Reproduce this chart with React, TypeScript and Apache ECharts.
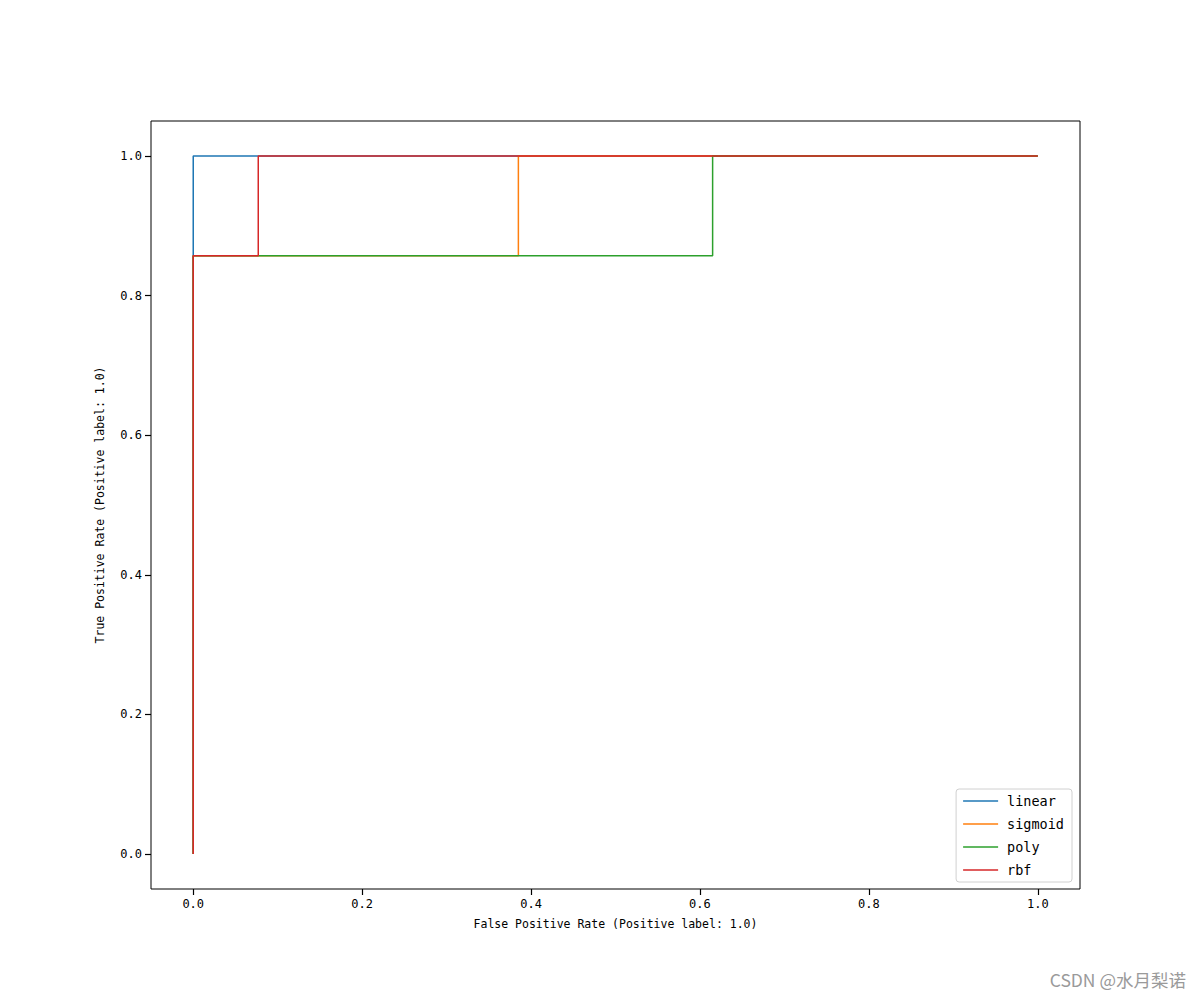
import React, { useEffect, useRef } from "react";
import * as echarts from "echarts";

const seriesNames = ["linear", "sigmoid", "poly", "rbf"];
const colors = ["#1f77b4", "#ff7f0e", "#2ca02c", "#d62728"];
const linearFpr = [0, 0, 0, 1];
const linearTpr = [0, 0.857, 1, 1];
const sigmoidFpr = [0, 0, 0.385, 0.385, 1];
const sigmoidTpr = [0, 0.857, 0.857, 1, 1];
const polyFpr = [0, 0, 0.615, 0.615, 1];
const polyTpr = [0, 0.857, 0.857, 1, 1];
const rbfFpr = [0, 0, 0.077, 0.077, 1];
const rbfTpr = [0, 0.857, 0.857, 1, 1];
const xLabel = "False Positive Rate (Positive label: 1.0)";
const yLabel = "True Positive Rate (Positive label: 1.0)";
const watermark = "CSDN @水月梨诺";

const FONT = "'DejaVu Sans Mono', monospace";
const AX_MIN = -0.05;
const AX_MAX = 1.05;
const TICK_STEP = 0.2;

export default function App() {
  const ref = useRef<HTMLDivElement>(null);
  useEffect(() => {
    document.body.style.margin = "0";
    const chart = echarts.init(ref.current!, null, { renderer: "svg" });
    const W = 1200, H = 1000;
    const G = { left: 151, right: 120, top: 121, bottom: 111 };
    const pw = W - G.left - G.right;
    const ph = H - G.top - G.bottom;
    const span = AX_MAX - AX_MIN;
    const padX = (pw * (0 - AX_MIN)) / span;
    const padX2 = (pw * (AX_MAX - 1)) / span;
    const padY = (ph * (0 - AX_MIN)) / span;
    const padY2 = (ph * (AX_MAX - 1)) / span;

    const curves = [
      [linearFpr, linearTpr],
      [sigmoidFpr, sigmoidTpr],
      [polyFpr, polyTpr],
      [rbfFpr, rbfTpr],
    ];
    const hidden = {
      axisLine: { show: false, onZero: false },
      axisTick: { show: false },
      axisLabel: { show: false },
      splitLine: { show: false },
    };
    const tickAxis = {
      type: "value" as const,
      min: 0,
      max: 1,
      interval: TICK_STEP,
      splitLine: { show: false },
      axisLine: { show: false, onZero: false },
      axisTick: { show: true, length: 6, inside: false, lineStyle: { color: "#000", width: 1.2 } },
      axisLabel: {
        formatter: (v: number) => v.toFixed(1),
        color: "#000",
        fontFamily: FONT,
        fontSize: 12,
        margin: 9,
        showMinLabel: true,
        showMaxLabel: true,
      },
    };
    const nameStyle = { color: "#000", fontFamily: FONT, fontSize: 11.5 };
    chart.setOption({
      animation: false,
      backgroundColor: "#fff",
      grid: [
        { ...G, show: true, borderColor: "#000", borderWidth: 1, backgroundColor: "transparent" },
        { left: G.left + padX, right: G.right + padX2, top: G.top, bottom: G.bottom, show: false },
        { left: G.left, right: G.right, top: G.top + padY2, bottom: G.bottom + padY, show: false },
      ],
      xAxis: [
        {
          type: "value",
          gridIndex: 0,
          min: AX_MIN,
          max: AX_MAX,
          ...hidden,
          name: xLabel,
          nameLocation: "middle",
          nameGap: 29,
          nameTextStyle: nameStyle,
        },
        { ...tickAxis, gridIndex: 1 },
        { type: "value", gridIndex: 2, min: 0, max: 1, show: false },
      ],
      yAxis: [
        {
          type: "value",
          gridIndex: 0,
          min: AX_MIN,
          max: AX_MAX,
          ...hidden,
          name: yLabel,
          nameLocation: "middle",
          nameGap: 45,
          nameRotate: 90,
          nameTextStyle: nameStyle,
        },
        { type: "value", gridIndex: 1, min: 0, max: 1, show: false },
        { ...tickAxis, gridIndex: 2 },
      ],
      legend: {
        orient: "vertical",
        right: 128,
        bottom: 118,
        data: seriesNames,
        icon: "rect",
        itemWidth: 35,
        itemHeight: 1.5,
        itemGap: 9,
        padding: [5, 8, 5, 7],
        borderColor: "#d0d0d0",
        borderWidth: 1,
        borderRadius: 3,
        backgroundColor: "rgba(255,255,255,0.8)",
        textStyle: { color: "#000", fontFamily: FONT, fontSize: 13.5, padding: [0, 0, 0, 4] },
      },
      series: seriesNames.map((name, i) => ({
        name,
        type: "line",
        xAxisIndex: 0,
        yAxisIndex: 0,
        data: curves[i][0].map((x, j) => [x, curves[i][1][j]]),
        showSymbol: false,
        symbol: "none",
        lineStyle: { color: colors[i], width: 1.5 },
        itemStyle: { color: colors[i] },
      })),
      graphic: [
        {
          type: "text",
          right: 14,
          top: 971,
          style: {
            text: watermark,
            fill: "#9a9a9a",
            font: "17.5px 'Noto Sans CJK SC', 'Noto Sans', sans-serif",
          },
        },
      ],
    });
    return () => chart.dispose();
  }, []);
  return <div ref={ref} style={{ width: 1200, height: 1000 }} />;
}
